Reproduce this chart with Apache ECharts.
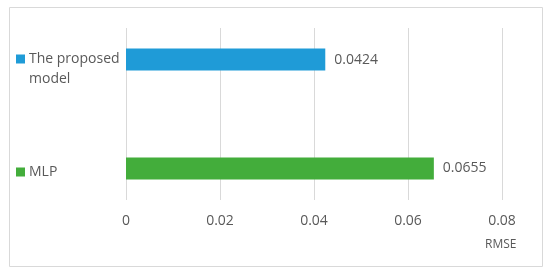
<!DOCTYPE html>
<html>
<head>
<meta charset="utf-8">
<script src="https://cdn.jsdelivr.net/npm/echarts@6/dist/echarts.min.js"></script>
<style>
  html, body { margin: 0; padding: 0; background: #fff; }
  #chart { width: 550px; height: 275px; }
</style>
</head>
<body>
<div id="chart"></div>
<script>
// 数据
const categories = ['RMSE']
const seriesNames = ['The proposed model', 'MLP']
const seriesValues = [[0.0424], [0.0655]]
const seriesColors = ['#1f9bd7', '#43ad3b']
const tickValues = [0, 0.02, 0.04, 0.06, 0.08]

const textColor = '#595959'
const fontFamily = '"Open Sans", sans-serif'

const chart = echarts.init(document.getElementById('chart'))

chart.setOption({
  animation: false,
  textStyle: { fontFamily },
  graphic: [{
    type: 'rect',
    shape: { x: 9.5, y: 7.5, width: 533, height: 259 },
    style: { fill: 'none', stroke: '#d9d9d9', lineWidth: 1 },
    silent: true
  }],
  // 左侧图例，色块对齐第一行
  legend: {
    orient: 'vertical',
    left: 11,
    top: 49,
    padding: 0,
    itemGap: 73,
    itemWidth: 0,
    itemHeight: 0,
    icon: 'rect',
    data: seriesNames,
    formatter: (name) => {
      const i = seriesNames.indexOf(name)
      if (i === 0) return '{sq0|}{t|The proposed}\n{sp|}{t|model}'
      return '{sq1|}{t|' + name + '}'
    },
    textStyle: {
      color: textColor,
      fontSize: 14,
      lineHeight: 20,
      rich: {
        sq0: { width: 9, height: 9, backgroundColor: seriesColors[0] },
        sq1: { width: 9, height: 9, backgroundColor: seriesColors[1] },
        sp: { width: 9, height: 9 },
        t: { fontSize: 14, color: textColor, padding: [0, 0, 0, 4], lineHeight: 20 }
      }
    }
  },
  grid: { left: 126, right: 48, top: 28, bottom: 75 },
  xAxis: {
    type: 'value',
    min: tickValues[0],
    max: tickValues[tickValues.length - 1],
    interval: 0.02,
    name: 'RMSE',
    nameLocation: 'end',
    nameGap: -17,
    nameTextStyle: { color: textColor, fontSize: 12, verticalAlign: 'top', padding: [39, 0, 0, 0] },
    axisLine: { show: false },
    axisTick: { show: false },
    axisLabel: { color: textColor, fontSize: 14, margin: 14 },
    splitLine: { lineStyle: { color: '#d9d9d9', width: 1 } }
  },
  yAxis: {
    type: 'category',
    data: categories,
    inverse: true,
    axisLine: { show: false },
    axisTick: { show: false },
    axisLabel: { show: false }
  },
  series: seriesNames.map((name, i) => ({
    name,
    type: 'bar',
    data: seriesValues[i],
    barWidth: 22,
    barGap: '395%',
    itemStyle: { color: seriesColors[i] },
    label: {
      show: true,
      position: 'right',
      distance: 9,
      color: textColor,
      fontSize: 14
    }
  }))
})
</script>
</body>
</html>
